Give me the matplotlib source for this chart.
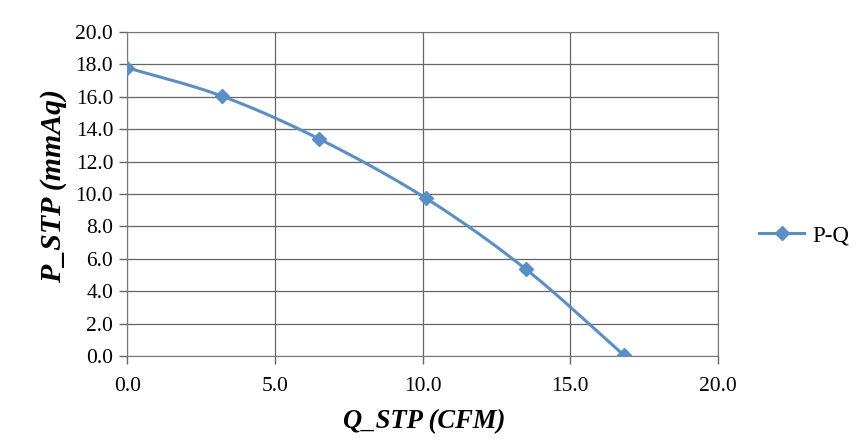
import numpy as np
import matplotlib
matplotlib.use("Agg")
import matplotlib.pyplot as plt
from matplotlib.lines import Line2D

# P-Q curve values
q_stp = [0.0, 3.2, 6.5, 10.1, 13.5, 16.8]
p_stp = [17.8, 16.05, 13.4, 9.75, 5.35, 0.07]

x_ticks = [0.0, 5.0, 10.0, 15.0, 20.0]
y_ticks = [0.0, 2.0, 4.0, 6.0, 8.0, 10.0, 12.0, 14.0, 16.0, 18.0, 20.0]

blue = "#5b8ec4"
plt.rcParams["font.family"] = ["Liberation Serif", "DejaVu Serif"]


def smooth(xs, ys, n=30):
    # catmull-rom style smoothing like Excel's smoothed line
    xs = np.asarray(xs, float)
    ys = np.asarray(ys, float)
    px = np.concatenate([[2 * xs[0] - xs[1]], xs, [2 * xs[-1] - xs[-2]]])
    py = np.concatenate([[2 * ys[0] - ys[1]], ys, [2 * ys[-1] - ys[-2]]])
    ox, oy = [], []
    t = np.linspace(0, 1, n)
    for i in range(1, len(px) - 2):
        for p, o in ((px, ox), (py, oy)):
            p0, p1, p2, p3 = p[i - 1], p[i], p[i + 1], p[i + 2]
            o.extend(0.5 * (2 * p1 + (-p0 + p2) * t
                            + (2 * p0 - 5 * p1 + 4 * p2 - p3) * t ** 2
                            + (-p0 + 3 * p1 - 3 * p2 + p3) * t ** 3))
    return ox, oy


fig = plt.figure(figsize=(8.59, 4.45), dpi=100)
ax = fig.add_axes([0.148, 0.2, 0.688, 0.728])

sx, sy = smooth(q_stp, p_stp)
ax.plot(sx, sy, color=blue, linewidth=2.2, zorder=3)
ax.plot(q_stp, p_stp, linestyle="none", marker="D", markersize=7,
        color=blue, zorder=4)

ax.set_xlim(0, 20)
ax.set_ylim(0, 20)
ax.set_xticks(x_ticks)
ax.set_yticks(y_ticks)
ax.set_xticklabels([f"{v:.1f}" for v in x_ticks])
ax.set_yticklabels([f"{v:.1f}" for v in y_ticks])
ax.tick_params(labelsize=15.5, length=6, color="#666666", width=1)
ax.tick_params(axis="x", pad=9)
ax.tick_params(axis="y", pad=4)
ax.grid(color="#666666", linewidth=0.9)
ax.set_axisbelow(True)
for s in ax.spines.values():
    s.set_color("#777777")

ax.set_xlabel("Q_STP (CFM)", fontsize=19.2, fontweight="bold", style="italic",
              va="center")
ax.set_ylabel("P_STP (mmAq)", fontsize=21.5, fontweight="bold", style="italic",
              va="center")
ax.xaxis.set_label_coords(0.503, -0.203)
ax.yaxis.set_label_coords(-0.125, 0.525)

handle = Line2D([], [], color=blue, linewidth=2.2, marker="D", markersize=7)
fig.legend([handle], ["P-Q"], loc="center left", bbox_to_anchor=(0.86, 0.47),
           frameon=False, fontsize=16.5, handlelength=1.95, handletextpad=0.35)

fig.savefig("out.png", dpi=100)
